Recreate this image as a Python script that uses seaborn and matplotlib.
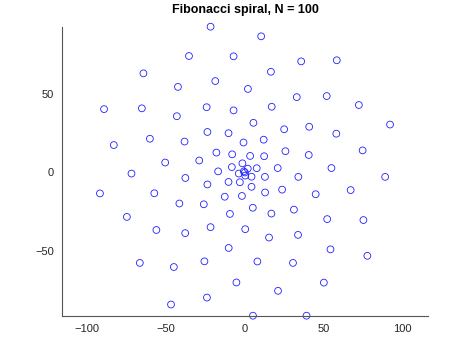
import numpy as np
import pandas as pd
import matplotlib
matplotlib.use("Agg")
import matplotlib.pyplot as plt
import seaborn as sns

# Fibonacci spiral points (N = 100)
x_vals = [0.0, -0.7, 0.2, 1.8, -3.9, 4.2, -1.6, -3.2, 7.5, -8.3,
          4.2, 3.3, -10.4, 12.7, -8.1, -1.9, 12.2, -17.0, 12.8, -0.9,
          -12.8, 20.8, -18.1, 5.0, 11.9, -23.8, 23.6, -10.4, -9.5, 25.7,
          -29.0, 16.8, 5.4, -26.1, 33.9, -23.8, 0.2, 24.9, -37.8, 31.1,
          -7.2, -21.8, 40.5, -38.3, 15.3, 17.0, -41.6, 44.9, -24.3, -10.3,
          40.8, -50.6, 33.7, 1.9, -37.9, 54.9, -43.2, 7.9, 32.9, -57.5,
          52.2, -18.8, -25.7, 58.0, -60.3, 30.5, 16.5, -56.2, 67.1, -42.5,
          -5.4, 51.9, -72.0, 54.3, -7.2, -45.1, 74.7, -65.4, 21.0, 35.7,
          -74.9, 75.2, -35.5, -24.1, 72.3, -83.2, 50.1, 10.3, -66.7, 89.0,
          -64.4, 5.1, 58.3, -92.0, 77.7, -21.8, -46.9, 92.1, -89.4, 39.1]
y_vals = [0.0, 0.7, -2.0, 2.4, -0.7, -2.7, 5.8, -6.2, 2.7, 3.4,
          -9.1, 10.5, -6.0, -2.8, 11.5, -14.9, 10.3, 0.7, -12.7, 19.0,
          -15.4, 2.8, 12.6, -22.4, 20.8, -7.6, -10.9, 24.9, -26.3, 13.5,
          7.6, -26.1, 31.5, -20.2, -2.8, 25.7, -36.0, 27.4, -3.5, -23.6,
          39.4, -34.7, 11.1, 19.6, -41.3, 41.7, -19.7, -13.8, 41.4, -47.9,
          29.0, 6.3, -39.6, 53.0, -38.5, 2.8, 35.7, -56.5, 47.8, -13.2,
          -29.6, 58.0, -56.4, 24.6, 21.4, -57.4, 63.9, -36.5, -11.2, 54.3,
          -69.8, 48.5, -0.7, -48.8, 73.7, -60.0, 14.0, 40.7, -75.1, 70.5,
          -28.2, -30.2, 73.9, -79.4, 42.8, 17.4, -69.9, 86.4, -57.4, -2.8,
          62.9, -90.9, 71.2, -13.3, -52.9, 92.5, -83.8, 30.4, 40.2, -90.9]
x_ticks = [-100, -50, 0, 50, 100]
y_ticks = [-50, 0, 50]

df = pd.DataFrame({"x": x_vals, "y": y_vals})

sns.set_style("white")
plt.rcParams['font.family'] = ['Liberation Sans', 'DejaVu Sans']

fig = plt.figure(figsize=(4.74, 3.55), dpi=100)
# axes box in pixels: left 62, right 428, top 27, bottom 316
ax = fig.add_axes([62/474, 1-315.7/355, 366/474, 289/355])

sns.scatterplot(data=df, x="x", y="y", ax=ax, marker='o', clip_on=False,
                facecolor='none', edgecolor='#2020ff', linewidth=0.6, s=24)

# axis equal + tight in y
ymin, ymax = df.y.min(), df.y.max()
xc = (df.x.min() + df.x.max()) / 2
half = (ymax - ymin) * (366 / 289) / 2
ax.set_xlim(xc - half, xc + half)
ax.set_ylim(ymin, ymax)

ax.set_xticks(x_ticks)
ax.set_yticks(y_ticks)
ax.set_xlabel("")
ax.set_ylabel("")
for s in ["top", "right"]:
    ax.spines[s].set_visible(False)
for s in ["left", "bottom"]:
    ax.spines[s].set_color("#555555")
    ax.spines[s].set_linewidth(0.8)
ax.tick_params(direction='in', length=3, width=0.6, color="#555555",
               labelsize=8, labelcolor="#262626", pad=6)

ax.set_title("Fibonacci spiral, N = 100", fontsize=9, fontweight='bold',
             color="black", pad=10)

fig.savefig("out.png", dpi=100)
